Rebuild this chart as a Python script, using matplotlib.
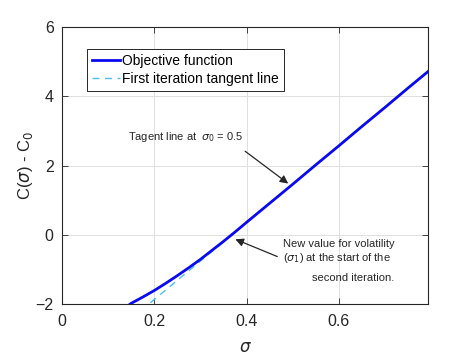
import matplotlib
matplotlib.use("Agg")
import matplotlib.pyplot as plt

plt.rcParams['font.family'] = ['Liberation Sans', 'DejaVu Sans']
plt.rcParams['mathtext.fontset'] = 'dejavusans'

# Objective function C(sigma) - C0
sigma = [0.14, 0.15, 0.175, 0.2, 0.225, 0.25, 0.275, 0.3, 0.325, 0.35, 0.375, 0.4,
         0.45, 0.5, 0.55, 0.6, 0.65, 0.7, 0.75, 0.8]
obj = [-2.08, -1.98, -1.80, -1.61, -1.40, -1.18, -0.95, -0.71, -0.45, -0.19, 0.08, 0.36,
       0.91, 1.46, 2.02, 2.57, 3.13, 3.68, 4.24, 4.79]

# First-iteration tangent line at sigma0 = 0.5 (endpoints)
tan_sigma = [0.15, 0.8]
tan_val = [-2.425, 4.79]

ann1_text = r"Tagent line at  $\sigma_0$ = 0.5"
ann2_lines = ["New value for volatility", r"($\sigma_1$) at the start of the", "second iteration."]

fig = plt.figure(figsize=(4.74, 3.55), dpi=100)
ax = fig.add_axes([62/474, 51/355, 366/474, 277/355])

ax.plot(sigma, obj, color='#0a0af0', lw=2.0, label='Objective function', zorder=3)
ax.plot(tan_sigma, tan_val, color='#4DBEEE', lw=1.0, ls=(0, (5, 4)),
        label='First iteration tangent line', zorder=2)

ax.set_xlim(0, 0.793)
ax.set_ylim(-2, 6)
ax.set_xticks([0, 0.2, 0.4, 0.6])
ax.set_xticklabels(['0', '0.2', '0.4', '0.6'])
ax.set_yticks([-2, 0, 2, 4, 6])
ax.grid(True, color='#e0e0e0', lw=0.7)
ax.set_axisbelow(True)
ax.tick_params(direction='in', top=True, right=True, labelsize=11.5, colors='#262626',
               length=4, width=0.6)
ax.tick_params(axis='x', pad=7)
ax.tick_params(axis='y', pad=6)
for s in ax.spines.values():
    s.set_color('#262626')
    s.set_linewidth(0.8)

ax.set_xlabel(r'$\sigma$', fontsize=12, color='#262626', labelpad=8)
ax.set_ylabel(r'C($\sigma$) - C$_0$', fontsize=12, color='#262626')
ax.yaxis.set_label_coords(-0.075, 0.5)

leg = ax.legend(loc='upper left', bbox_to_anchor=(0.068, 0.92), borderaxespad=0,
                fontsize=10, handlelength=2.0, handletextpad=0.2, fancybox=False,
                framealpha=1, edgecolor='#262626', borderpad=0.35, labelspacing=0.3)
leg.get_frame().set_linewidth(0.7)

arrowprops = dict(arrowstyle='-|>', color='#262626', lw=0.9, mutation_scale=12)
ax.annotate('', xy=(0.495, 1.43), xytext=(0.392, 2.46), arrowprops=arrowprops)
ax.text(0.143, 2.83, ann1_text, fontsize=8, va='center', ha='left', color='#262626')

ax.annotate('', xy=(0.370, -0.10), xytext=(0.472, -0.66), arrowprops=arrowprops)
ax.text(0.479, -0.26, ann2_lines[0], fontsize=8, va='center', ha='left', color='#262626')
ax.text(0.479, -0.66, ann2_lines[1], fontsize=8, va='center', ha='left', color='#262626')
ax.text(0.542, -1.24, ann2_lines[2], fontsize=8, va='center', ha='left', color='#262626')

fig.savefig('out.png', dpi=100)
